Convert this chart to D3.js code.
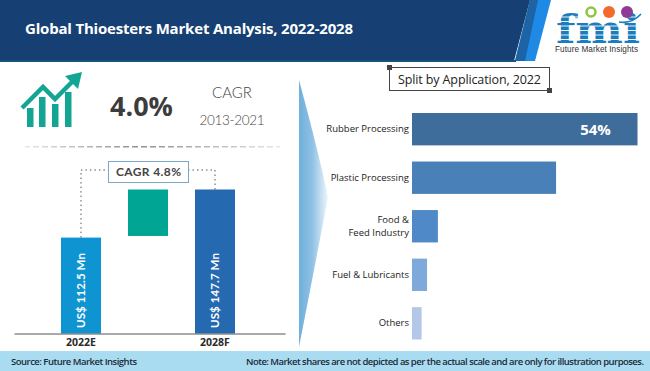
<!DOCTYPE html>
<html>
<head>
<meta charset="utf-8">
<title>Global Thioesters Market Analysis</title>
<script src="https://cdn.jsdelivr.net/npm/d3@7"></script>
<style>
    body { margin: 0; background: white; }
    svg { display: block; }
</style>
</head>
<body>
<div id="chart"></div>
<script>
// market size, start and end year plus the growth step between them
const marketYears = ["2022E", "Growth", "2028F"];
const marketStart = [112.5, 112.5 + 1.2, 0];
const marketEnd = [0, 147.7, 147.7];
const marketColors = ["#0f94d2", "#00a593", "#2569b0"];
const marketLabels = ["US$ 112.5 Mn", "", "US$ 147.7 Mn"];

// split by application
const applications = ["Rubber Processing", "Plastic Processing", "Food &\nFeed Industry", "Fuel & Lubricants", "Others"];
const shares = [54, 34.5, 6.2, 3.6, 2.3];
const shareLabels = ["54%", "", "", "", ""];
const shareColors = ["#3f6d9b", "#4a80b8", "#4f89c7", "#7fa9db", "#b5c7e6"];

const svg = d3.select("#chart").append("svg")
    .attr("width", 650)
    .attr("height", 371);

const defs = svg.append("defs");

let chevronFill = defs.append("linearGradient")
    .attr("id", "chevron-fill");
chevronFill.append("stop").attr("offset", "0").attr("stop-color", "#6fb0dc");
chevronFill.append("stop").attr("offset", "0.45").attr("stop-color", "#8fc0e4");
chevronFill.append("stop").attr("offset", "1").attr("stop-color", "#eef6fb");

let dashFill = defs.append("linearGradient")
    .attr("id", "dash-fill");
dashFill.append("stop").attr("offset", "0").attr("stop-color", "#e6e6e6");
dashFill.append("stop").attr("offset", "0.45").attr("stop-color", "#8f8f8f");
dashFill.append("stop").attr("offset", "1").attr("stop-color", "#e6e6e6");

// header banner
svg.append("path").attr("d", "M530,0 L551,0 L535,61 L515,61 Z").attr("fill", "#1f8ae6");
svg.append("path").attr("d", "M530,0 L538,0 L525,61 L515,61 Z").attr("fill", "#1c64a6");
svg.append("path").attr("d", "M0,0 L530,0 L514,61 L0,61 Z").attr("fill", "#163f73");
svg.append("rect").attr("x", 0).attr("y", 60).attr("width", 516).attr("height", 2).attr("fill", "#1a5478");

svg.append("text")
    .attr("x", 25)
    .attr("y", 34)
    .attr("font-family", "Open Sans")
    .attr("font-weight", "bold")
    .attr("font-size", "15px")
    .attr("textLength", 328)
    .attr("fill", "white")
    .text("Global Thioesters Market Analysis, 2022-2028");

// logo
let logo = svg.append("g");
logo.append("text")
    .attr("x", 556)
    .attr("y", 43)
    .attr("font-family", "DejaVu Serif")
    .attr("font-weight", "bold")
    .attr("font-size", "40px")
    .attr("textLength", 84)
    .attr("lengthAdjust", "spacingAndGlyphs")
    .attr("fill", "#1b7dbb")
    .text("fmi");
d3.range(17, 43, 4.5).forEach(y => {
    logo.append("line")
        .attr("x1", 553).attr("x2", 644)
        .attr("y1", y).attr("y2", y)
        .attr("stroke", "white")
        .attr("stroke-width", 0.9);
});
logo.append("circle").attr("cx", 591).attr("cy", 12).attr("r", 4.5).attr("fill", "white").attr("stroke", "#8cc63f").attr("stroke-width", 2.5);
logo.append("circle").attr("cx", 609).attr("cy", 12).attr("r", 6).attr("fill", "#f26a2e");
logo.append("circle").attr("cx", 627).attr("cy", 12).attr("r", 6).attr("fill", "#8e3a96");
logo.append("path").attr("d", "M619,22 Q632,24 641,14").attr("fill", "none").attr("stroke", "#1b7dbb").attr("stroke-width", 1.6);
logo.append("text")
    .attr("x", 555)
    .attr("y", 52)
    .attr("font-family", "Liberation Sans")
    .attr("font-size", "8.2px")
    .attr("textLength", 83)
    .attr("fill", "#333")
    .text("Future Market Insights");

// growth icon
let icon = svg.append("g").attr("fill", "#12a594");
[[27, 108], [39, 97], [52, 104], [65, 92]].forEach(b => {
    icon.append("rect").attr("x", b[0]).attr("y", b[1]).attr("width", 6.5).attr("height", 127 - b[1]);
});
icon.append("path")
    .attr("d", "M22,108 L43,87 L55,99 L72,82")
    .attr("fill", "none")
    .attr("stroke", "#12a594")
    .attr("stroke-width", 4.5);
icon.append("path").attr("d", "M65,76 L82,72 L78,89 Z");

// headline CAGR
svg.append("text")
    .attr("x", 110)
    .attr("y", 116)
    .attr("font-family", "Open Sans")
    .attr("font-weight", "bold")
    .attr("font-size", "27px")
    .attr("fill", "#3c3c3c")
    .text("4.0%");
svg.append("text")
    .attr("x", 232)
    .attr("y", 98)
    .attr("text-anchor", "middle")
    .attr("font-family", "Lato")
    .attr("font-weight", "300")
    .attr("font-size", "15px")
    .attr("fill", "#444")
    .text("CAGR");
svg.append("text")
    .attr("x", 232)
    .attr("y", 125)
    .attr("text-anchor", "middle")
    .attr("font-family", "Lato")
    .attr("font-weight", "300")
    .attr("font-size", "13.5px")
    .attr("textLength", 65)
    .attr("fill", "#444")
    .text("2013-2021");

svg.append("rect")
    .attr("x", 25)
    .attr("y", 146)
    .attr("width", 255)
    .attr("height", 1.5)
    .attr("fill", "url(#dash-fill)");
d3.range(30, 280, 9).forEach(x => {
    svg.append("rect").attr("x", x).attr("y", 145).attr("width", 3).attr("height", 3).attr("fill", "white");
});

// left bars, the value axis does not start at zero in the original
let xMarket = d3.scaleBand()
    .domain(marketYears)
    .range([14, 285])
    .paddingInner(0.403)
    .paddingOuter(0.724)
    .align(0.4845);

let yMarket = d3.scaleLinear()
    .domain([42.3, 147.7])
    .range([333.5, 189.5]);

svg.selectAll(".market-bar")
    .data(marketYears)
    .enter()
    .append("rect")
    .attr("class", "market-bar")
    .attr("x", d => xMarket(d))
    .attr("width", xMarket.bandwidth())
    .attr("y", (d, i) => yMarket(Math.max(marketStart[i], marketEnd[i])))
    .attr("height", (d, i) => {
        if (d === "Growth") return yMarket(marketStart[i]) - yMarket(marketEnd[i]);
        return yMarket.range()[0] - yMarket(Math.max(marketStart[i], marketEnd[i]));
    })
    .attr("fill", (d, i) => marketColors[i]);

let xAxis = d3.axisBottom(xMarket)
    .tickSize(0)
    .tickPadding(5)
    .tickFormat(d => d === "Growth" ? "" : d);

let xAxisGroup = svg.append("g")
    .attr("transform", "translate(0, 333.5)")
    .call(xAxis);
xAxisGroup.select(".domain").attr("stroke", "#555").attr("stroke-width", 1);
xAxisGroup.selectAll("text")
    .attr("font-family", "Open Sans")
    .attr("font-weight", "bold")
    .attr("font-size", "10.5px")
    .attr("fill", "#2b2b2b");

// value labels inside the bars
marketYears.forEach((d, i) => {
    if (marketLabels[i] === "") return;
    svg.append("text")
        .attr("transform", "translate(" + (xMarket(d) + xMarket.bandwidth() / 2 + 4) + ", 328) rotate(-90)")
        .attr("font-family", "Lato")
        .attr("font-weight", "bold")
        .attr("font-size", "11.5px")
        .attr("textLength", 75)
        .attr("fill", "white")
        .text(marketLabels[i]);
});

// dotted connectors and the CAGR box
let leftCenter = xMarket("2022E") + xMarket.bandwidth() / 2;
let rightCenter = xMarket("2028F") + xMarket.bandwidth() / 2;
[[leftCenter, yMarket(112.5), leftCenter, 170, 108, 170],
 [rightCenter, yMarket(147.7), rightCenter, 170, 188, 170]].forEach(c => {
    svg.append("path")
        .attr("d", d3.line()([[c[0], c[1]], [c[2], c[3]], [c[4], c[5]]]))
        .attr("fill", "none")
        .attr("stroke", "#555")
        .attr("stroke-width", 1)
        .attr("stroke-dasharray", "1.5,3");
});
svg.append("rect")
    .attr("x", 108.5)
    .attr("y", 161.5)
    .attr("width", 80)
    .attr("height", 21)
    .attr("fill", "white")
    .attr("stroke", "#7ba7c9");
svg.append("text")
    .attr("x", 148.5)
    .attr("y", 176)
    .attr("text-anchor", "middle")
    .attr("font-family", "Lato")
    .attr("font-weight", "bold")
    .attr("font-size", "12px")
    .attr("textLength", 65)
    .attr("fill", "#444")
    .text("CAGR 4.8%");

// chevron between the panels
svg.append("path")
    .attr("d", "M299,80 Q318,150 328,197 Q318,250 299,347 Z")
    .attr("fill", "url(#chevron-fill)");

// split box
svg.append("rect")
    .attr("x", 389.5)
    .attr("y", 67.5)
    .attr("width", 160)
    .attr("height", 23)
    .attr("fill", "white")
    .attr("stroke", "#444");
svg.append("rect").attr("x", 387).attr("y", 65).attr("width", 5).attr("height", 5).attr("fill", "#444");
svg.append("rect").attr("x", 547).attr("y", 88).attr("width", 5).attr("height", 5).attr("fill", "#444");
svg.append("text")
    .attr("x", 469.5)
    .attr("y", 83.5)
    .attr("text-anchor", "middle")
    .attr("font-family", "Open Sans")
    .attr("font-size", "12.5px")
    .attr("textLength", 143)
    .attr("fill", "#222")
    .text("Split by Application, 2022");

// right bars
let xShare = d3.scaleLinear()
    .domain([0, 54])
    .range([412, 637.5]);

let yShare = d3.scaleBand()
    .domain(applications)
    .range([113, 339.5])
    .paddingInner(0.333);

svg.selectAll(".share-bar")
    .data(applications)
    .enter()
    .append("rect")
    .attr("class", "share-bar")
    .attr("x", xShare(0))
    .attr("y", d => yShare(d))
    .attr("width", (d, i) => xShare(shares[i]) - xShare(0))
    .attr("height", yShare.bandwidth())
    .attr("fill", (d, i) => shareColors[i]);

let yAxis = d3.axisLeft(yShare)
    .tickSize(0)
    .tickPadding(3);

let yAxisGroup = svg.append("g")
    .attr("transform", "translate(412, 0)")
    .call(yAxis);
yAxisGroup.select(".domain").remove();
yAxisGroup.selectAll("text")
    .attr("font-family", "Open Sans")
    .attr("font-size", "9.5px")
    .attr("fill", "#222")
    .each(function(d) {
        // labels with a line break become two tspans
        let lines = d.split("\n");
        if (lines.length === 1) return;
        let label = d3.select(this).text(null);
        lines.forEach((line, i) => {
            label.append("tspan")
                .attr("x", -3)
                .attr("dy", i === 0 ? "-0.35em" : "1.35em")
                .text(line);
        });
    });

applications.forEach((d, i) => {
    if (shareLabels[i] === "") return;
    svg.append("text")
        .attr("x", xShare(shares[i]) - 42)
        .attr("y", yShare(d) + yShare.bandwidth() / 2 + 5.5)
        .attr("text-anchor", "middle")
        .attr("font-family", "Open Sans")
        .attr("font-weight", "bold")
        .attr("font-size", "15px")
        .attr("fill", "white")
        .text(shareLabels[i]);
});

// footer
svg.append("rect")
    .attr("x", 0)
    .attr("y", 351)
    .attr("width", 650)
    .attr("height", 20)
    .attr("fill", "#a9dcf1");
svg.append("text")
    .attr("x", 11)
    .attr("y", 365)
    .attr("font-family", "Open Sans")
    .attr("font-weight", "600")
    .attr("font-size", "9.5px")
    .attr("textLength", 126)
    .attr("fill", "#1c2b3a")
    .text("Source: Future Market Insights");
svg.append("text")
    .attr("x", 246)
    .attr("y", 365)
    .attr("font-family", "Open Sans")
    .attr("font-weight", "600")
    .attr("font-size", "9.5px")
    .attr("textLength", 398)
    .attr("fill", "#1c2b3a")
    .text("Note: Market shares are not depicted as per the actual scale and are only for illustration purposes.");
</script>
</body>
</html>
